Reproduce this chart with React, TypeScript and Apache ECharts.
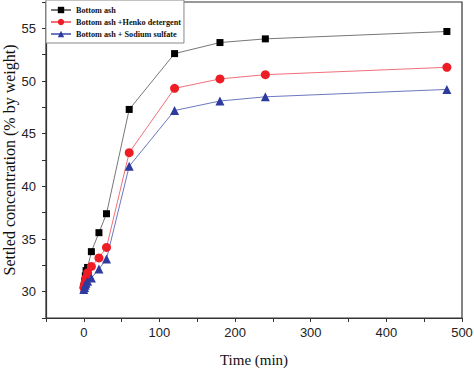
import React, { useEffect, useRef } from "react";
import * as echarts from "echarts";

const times = [0, 1, 2, 3, 5, 10, 20, 30, 60, 120, 180, 240, 480];
const bottomAsh = [30.5, 31.0, 31.5, 32.0, 32.3, 33.8, 35.6, 37.4, 47.3, 52.6, 53.65, 54.0, 54.7];
const henko = [30.4, 30.7, 31.0, 31.3, 31.8, 32.4, 33.2, 34.2, 43.2, 49.3, 50.2, 50.6, 51.3];
const sodium = [30.2, 30.4, 30.6, 30.8, 31.0, 31.3, 32.15, 33.1, 41.9, 47.2, 48.1, 48.5, 49.2];
const seriesNames = ["Bottom ash", "Bottom ash +Henko detergent", "Bottom ash + Sodium sulfate"];

const pair = (ys: number[]) => times.map((t, i) => [t, ys[i]]);

export default function App() {
  const ref = useRef<HTMLDivElement>(null);
  useEffect(() => {
    if (!ref.current) return;
    const chart = echarts.init(ref.current, undefined, { renderer: "svg" });
    const axisColor = "#333";
    const serif = "'Liberation Serif', 'Times New Roman', serif";
    chart.setOption({
      animation: false,
      backgroundColor: "#fff",
      grid: {
        left: 46,
        right: 12,
        top: 2,
        bottom: 50,
        outerBoundsMode: "none",
        containLabel: false,
        show: true,
        borderColor: axisColor,
        borderWidth: 1.2,
        backgroundColor: "transparent",
      },
      legend: {
        left: 46,
        top: 0,
        orient: "vertical",
        itemWidth: 20,
        itemHeight: 8,
        itemGap: 4,
        padding: [6, 3, 5, 4],
        backgroundColor: "#fff",
        borderColor: "#888",
        borderWidth: 1,
        borderRadius: 0,
        textStyle: {
          fontFamily: serif,
          fontWeight: "bold",
          fontSize: 8.2,
          color: "#111",
        },
        data: seriesNames,
      },
      xAxis: {
        type: "value",
        min: -50,
        max: 500,
        interval: 50,
        name: "Time (min)",
        nameLocation: "middle",
        nameGap: 34,
        nameMoveOverlap: false,
        nameTextStyle: { fontFamily: serif, fontSize: 15, color: "#111" },
        axisLine: { show: true, onZero: false, lineStyle: { color: axisColor, width: 1.2 } },
        axisTick: { show: true, length: 4, lineStyle: { color: axisColor } },
        axisLabel: {
          margin: 8,
          fontFamily: "'Liberation Sans', Arial, sans-serif",
          fontSize: 13,
          color: "#222",
          showMaxLabel: true,
          formatter: (v: number) => (v % 100 === 0 ? String(v) : ""),
        },
        splitLine: { show: false },
      },
      yAxis: {
        type: "value",
        min: 27.5,
        max: 57.5,
        interval: 2.5,
        name: "Settled concentration (% by weight)",
        nameLocation: "middle",
        nameGap: 29,
        nameMoveOverlap: false,
        nameTextStyle: { fontFamily: serif, fontSize: 16, color: "#111" },
        axisLine: { show: true, onZero: false, lineStyle: { color: axisColor, width: 1.2 } },
        axisTick: { show: true, length: 4, lineStyle: { color: axisColor } },
        axisLabel: {
          margin: 10,
          fontFamily: "'Liberation Sans', Arial, sans-serif",
          fontSize: 13,
          color: "#222",
          formatter: (v: number) => (v % 5 === 0 ? String(v) : ""),
        },
        splitLine: { show: false },
      },
      series: [
        {
          name: seriesNames[0],
          type: "line",
          data: pair(bottomAsh),
          symbol: "rect",
          symbolSize: 7,
          itemStyle: { color: "#000" },
          lineStyle: { color: "#777", width: 1 },
        },
        {
          name: seriesNames[1],
          type: "line",
          data: pair(henko),
          symbol: "circle",
          symbolSize: 9,
          itemStyle: { color: "#ee1c25" },
          lineStyle: { color: "#f0707a", width: 1 },
        },
        {
          name: seriesNames[2],
          type: "line",
          data: pair(sodium),
          symbol: "triangle",
          symbolSize: 9,
          itemStyle: { color: "#2e3b9e" },
          lineStyle: { color: "#6c78bf", width: 1 },
        },
      ],
    });
    return () => chart.dispose();
  }, []);
  return (
    <div
      ref={ref}
      style={{ position: "fixed", left: 0, top: 0, width: 474, height: 368, background: "#fff" }}
    />
  );
}
